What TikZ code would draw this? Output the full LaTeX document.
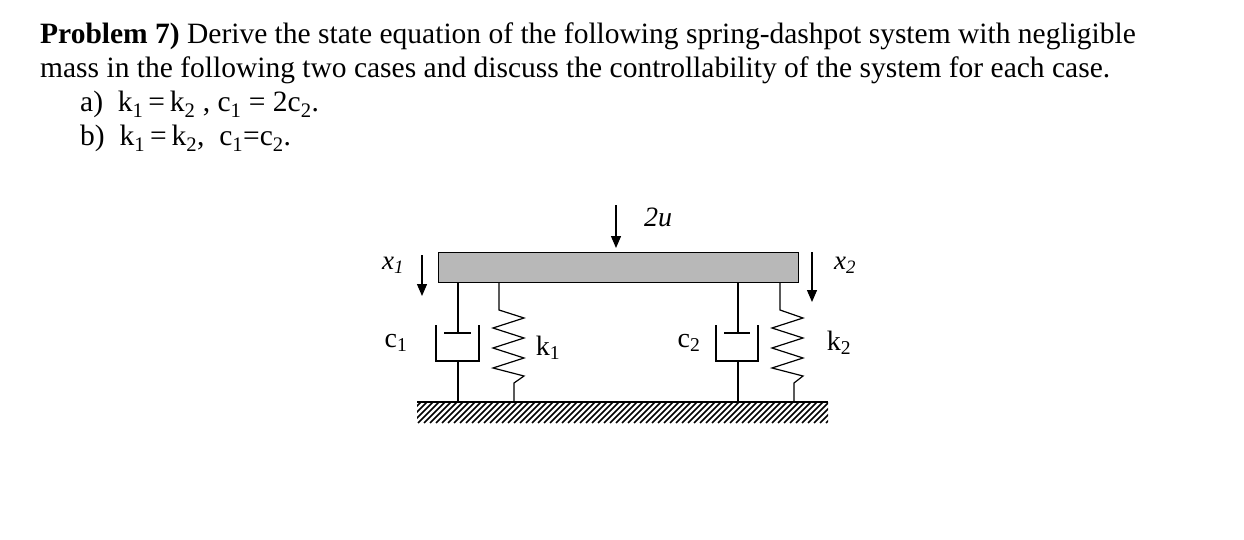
\documentclass[tikz,border=0pt]{standalone}
\usepackage{fontspec}
\setmainfont{Liberation Serif}
\usetikzlibrary{arrows.meta}
\newcommand{\mysb}[1]{\textsubscript{#1}}
\begin{document}
\begin{tikzpicture}[x=1pt,y=-1pt,
  txt/.style={anchor=base west,inner sep=0,font=\fontsize{29.5}{34}\selectfont},
  lbl/.style={inner sep=0,font=\fontsize{28}{32}\selectfont},
  arr/.style={-{Triangle[length=12pt,width=10pt]},line width=1.3pt},
  ln/.style={line width=1.2pt}]
\useasboundingbox (0,0) rectangle (1244,540);
\node[txt] (t1) at (40,44) {\textbf{Problem 7)} Derive the state equation of the following spring-dashpot system with negligible};
\node[txt] (t2) at (40,78) {mass in the following two cases and discuss the controllability of the system for each case.};
\node[txt] (t3) at (80,112) {a)\ \ k\mysb1\,=\,k\mysb2 , c\mysb1 = 2c\mysb2.};
\node[txt] (t4) at (80,146) {b)\ \ k\mysb1\,=\,k\mysb2,\ \ c\mysb1=c\mysb2.};
% bar
\node[draw,fill=black!28,line width=1.2pt,minimum width=360pt,minimum height=30pt,inner sep=0,anchor=north west] (bar) at (438,252) {};
% ground
\coordinate (g1) at (417,402); \coordinate (g2) at (828,402);
\draw[ln] (g1) -- (g2);
\begin{scope}
\clip (417,402) rectangle (828,423);
\foreach \i in {400,406,...,850} \draw[line width=1.6pt] (\i,423) -- (\i+21,402);
\end{scope}
% dampers
\foreach \dx/\bl/\br/\n in {458/436/479/a,738/716/758/b}{
  \draw[ln] (\dx,282) -- (\dx,333);
  \draw[ln] (\bl+8,333) -- (\br-8,333);
  \draw[ln] (\bl,325) -- (\bl,361) -- (\br,361) -- (\br,325);
  \draw[ln] (\dx,361) -- (\dx,402);
}
% springs
\foreach \t/\b/\l/\r in {499/514/493/524,780/794/772/803}{
  \draw[ln,line join=miter] (\t,282) -- (\t,310) -- (\r,318) -- (\l,328) -- (\r,338) -- (\l,348) -- (\r,358) -- (\l,368) -- (\r,376) -- (\b,383) -- (\b,402);
}
% arrows
\coordinate (u0) at (616,205); \coordinate (u1) at (616,248);
\draw[arr] (u0) -- (u1);
\node[lbl,font=\fontsize{28}{32}\selectfont\itshape] (u) at (658,217) {2u};
\coordinate (a0) at (422,255); \coordinate (a1) at (422,296);
\draw[arr] (a0) -- (a1);
\node[lbl,font=\fontsize{27}{32}\selectfont\itshape] (x1) at (393,265) {x\mysb1};
\coordinate (b0) at (812,252); \coordinate (b1) at (812,302);
\draw[arr] (b0) -- (b1);
\node[lbl,font=\fontsize{27}{32}\selectfont\itshape] (x2) at (845,265) {x\mysb2};
\node[lbl] (c1) at (396,343) {c\mysb1};
\node[lbl] (k1) at (548,348) {k\mysb1};
\node[lbl] (c2) at (689,343) {c\mysb2};
\node[lbl] (k2) at (839,343) {k\mysb2};
\end{tikzpicture}
\end{document}
